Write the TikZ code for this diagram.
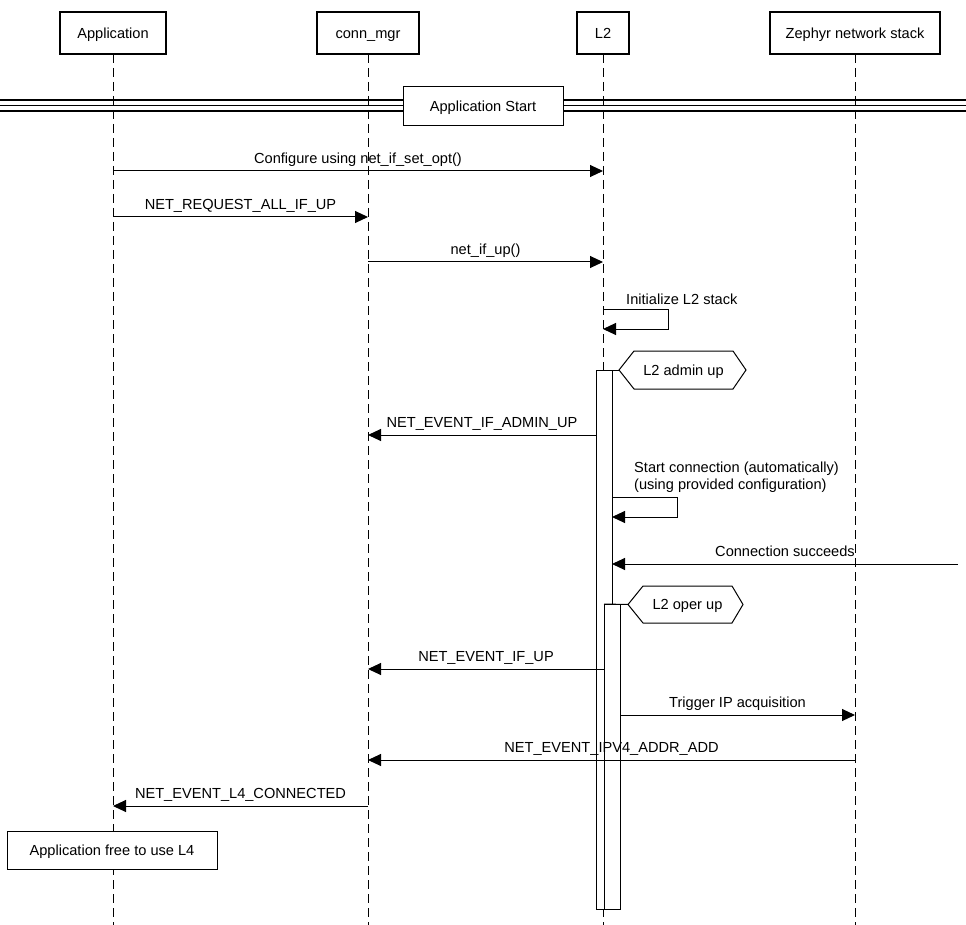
\documentclass[tikz,border=0pt]{standalone}
\usepackage{fontspec}
\setmainfont{Liberation Sans}
\usetikzlibrary{arrows.meta}

\tikzset{
	actor/.style={draw, line width=2pt, minimum height=42pt, inner sep=0pt, outer sep=0pt, text height=10.5pt, text depth=0pt},
	note/.style={draw, line width=1pt, fill=white, inner sep=0pt, outer sep=0pt, text height=10.5pt, text depth=0pt},
	life/.style={line width=1pt, dash pattern=on 9pt off 5pt},
	msg/.style={line width=1pt, -{Triangle[length=13pt,width=12pt]}},
	lbl/.style={inner sep=2pt, text depth=5pt},
	actbar/.style={draw, line width=1pt, fill=white, inner sep=0pt, outer sep=0pt, minimum width=16pt, anchor=north},
	hexa/.style={inner sep=0pt, outer sep=0pt, minimum height=38pt, text height=10.5pt, text depth=0pt},
}

\begin{document}
\begin{tikzpicture}[x=1pt, y=-1pt, font=\fontsize{14.6}{17}\selectfont]
		%%%%% START %%%%%
		\useasboundingbox (0,0) rectangle (966,925);
		
		\node[actor, minimum width=106pt] (app) at (113,33) {Application};
		\node[actor, minimum width=102pt] (mgr) at (368,33) {conn\_mgr};
		\node[actor, minimum width=52pt] (ltwo) at (603,33) {L2};
		\node[actor, minimum width=170pt] (zns) at (855,33) {Zephyr network stack};
		
		\coordinate (bot) at (0,925);
		\draw[life] (app.south) -- (app |- bot);
		\draw[life] (mgr.south) -- (mgr |- bot);
		\draw[life] (ltwo.south) -- (ltwo |- bot);
		\draw[life] (zns.south) -- (zns |- bot);
		
		\draw[line width=1.2pt] (0,100) -- (966,100);
		\draw[line width=1.2pt] (0,105.5) -- (966,105.5);
		\draw[line width=1.2pt] (0,111) -- (966,111);
		\node[note, minimum width=160pt, minimum height=39pt] (start) at (483,106.5) {Application Start};
		
		\draw[msg] (app |- 0,171) -- node[lbl, above] {Configure using net\_if\_set\_opt()} (ltwo |- 0,171);
		\draw[msg] (app |- 0,217) -- node[lbl, above] {NET\_REQUEST\_ALL\_IF\_UP} (mgr |- 0,217);
		\draw[msg] (mgr |- 0,262) -- node[lbl, above] {net\_if\_up()} (ltwo |- 0,262);
		
		\draw[msg] (ltwo |- 0,309) -- (668,309) -- (668,329) -- (ltwo |- 0,329);
		\node[lbl, anchor=west, text depth=0pt] (init) at (624,299) {Initialize L2 stack};
		
		\node[actbar, minimum height=539pt] (barA) at (604,370) {};
		\node[hexa, minimum width=99pt] (adm) at (683.5,370) {L2 admin up};
		\draw[line width=1pt] ([xshift=-15pt]adm.west) -- (adm.north west) -- (adm.north east) -- ([xshift=13pt]adm.east) -- (adm.south east) -- (adm.south west) -- cycle;
		\draw[line width=1pt] (barA.north east) -- ([xshift=-15pt]adm.west);
		
		\draw[msg] (barA.west |- 0,435) -- node[lbl, above] {NET\_EVENT\_IF\_ADMIN\_UP} (mgr |- 0,435);
		
		\draw[msg] (barA.east |- 0,497) -- (677,497) -- (677,517) -- (barA.east |- 0,517);
		\node[lbl, anchor=west, align=left] (auto) at (632,478.5) {Start connection (automatically)\\(using provided configuration)};
		
		\coordinate (edge) at (958,564);
		\draw[msg] (edge) -- node[lbl, above] {Connection succeeds} (barA.east |- edge);
		
		\node[actbar, minimum height=305pt] (barB) at (612,604) {};
		\node[hexa, minimum width=89pt, minimum height=37pt] (oper) at (687.5,604.5) {L2 oper up};
		\draw[line width=1pt] ([xshift=-15pt]oper.west) -- (oper.north west) -- (oper.north east) -- ([xshift=11pt]oper.east) -- (oper.south east) -- (oper.south west) -- cycle;
		\draw[line width=1pt] (barB.north west) -- ([xshift=-15pt]oper.west);
		
		\draw[msg] (barB.west |- 0,669) -- node[lbl, above] {NET\_EVENT\_IF\_UP} (mgr |- 0,669);
		\draw[msg] (barB.east |- 0,715) -- node[lbl, above] {Trigger IP acquisition} (zns |- 0,715);
		\draw[msg] (zns |- 0,760) -- node[lbl, above] {NET\_EVENT\_IPV4\_ADDR\_ADD} (mgr |- 0,760);
		\draw[msg] (mgr |- 0,806) -- node[lbl, above] {NET\_EVENT\_L4\_CONNECTED} (app |- 0,806);
		
		\node[note, minimum width=210pt, minimum height=38pt] (free) at (112,850) {Application free to use L4};
		
		%%%%% END %%%%%
	\end{tikzpicture}
\end{document}
